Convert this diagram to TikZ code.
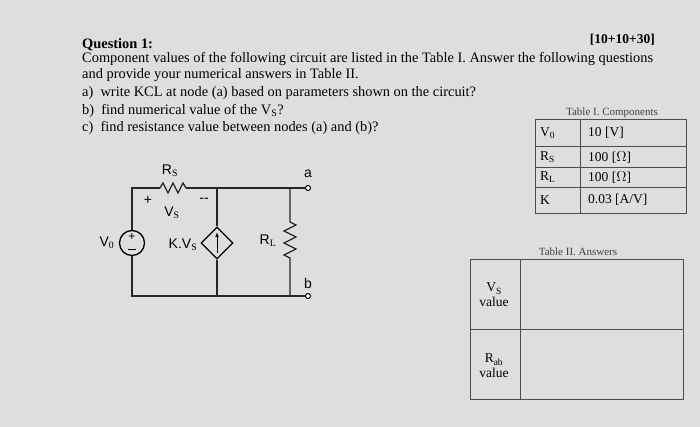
\documentclass[tikz,border=0pt]{standalone}
\usepackage{fontspec}
\usetikzlibrary{shapes.geometric,arrows.meta}
\setmainfont{Liberation Serif}
\newfontfamily\cirfont{Liberation Sans}
\begin{document}
\begin{tikzpicture}[x=1pt,y=-1pt,
  txt/.style={anchor=west,inner sep=0pt,font=\fontsize{14.4}{16}\selectfont},
  cl/.style={inner sep=0pt,font=\cirfont\fontsize{14}{16}\selectfont},
  tcell/.style={inner sep=0pt,anchor=west,font=\fontsize{13.5}{15}\selectfont},
  wire/.style={line width=1.3pt,draw=black!85},
  term/.style={circle,draw,line width=1pt,fill=white,inner sep=0pt,minimum size=5pt},
  tline/.style={draw=black!70,line width=0.9pt},
  small/.style={inner sep=0pt,font=\fontsize{11}{12}\selectfont,text=black!75}]
\useasboundingbox (0,0) rectangle (700,427);
\fill[black!13] (0,0) rectangle (700,427);
% text
\node[anchor=east,inner sep=0pt,font=\bfseries\fontsize{13.5}{15}\selectfont] (marks) at (655,40) {[10+10+30]};
\node[txt,font=\bfseries\fontsize{14.4}{16}\selectfont] (q) at (82,45) {Question 1:};
\node[txt] (l1) at (82,59) {Component values of the following circuit are listed in the Table I. Answer the following questions};
\node[txt] (l2) at (82,75) {and provide your numerical answers in Table II.};
\node[txt] (la) at (82,93) {a)\ \ write KCL at node (a) based on parameters shown on the circuit?};
\node[txt] (lb) at (82,111) {b)\ \ find numerical value of the V$_\mathrm{S}$?};
\node[txt] (lc) at (82,128) {c)\ \ find resistance value between nodes (a) and (b)?};
% circuit
\coordinate (tl) at (132,188);
\coordinate (bl) at (132,296);
\coordinate (r1) at (160,188);
\coordinate (r2) at (186,188);
\coordinate (mt) at (217,188);
\coordinate (mb) at (217,296);
\coordinate (rt) at (290,188);
\coordinate (rb) at (290,296);
\node[term] (a) at (308,188) {};
\node[term] (b) at (308,296) {};
\node[circle,draw,line width=1.3pt,fill=black!13,minimum size=25pt,inner sep=0pt] (vo) at (132,243) {};
\node[cl,font=\cirfont\fontsize{12}{12}\selectfont] at (132,237) {+};
\draw[line width=1pt] (128,250) -- (136,250);
\node[diamond,draw,line width=1.3pt,minimum size=32pt,inner sep=0pt,fill=black!13,shape aspect=1] (dep) at (217,243) {};
\draw[line width=1pt,-{Latex[length=5pt]}] (217,253) -- (217,232);
\draw[wire] (r1) -- (tl) -- (vo.north);
\draw[wire] (vo.south) -- (bl) -- (b.west);
\draw[wire] (r2) -- (a.west);
\draw[wire] (mt) -- (dep.north) (dep.south) -- (mb);
\draw[wire] (rt) -- (290,222) -- (296,225) -- (284,231) -- (296,237) -- (284,243) -- (296,249) -- (284,255) -- (290,258) -- (rb);
\draw[wire] (r1) -- (163,183) -- (168,193) -- (173,183) -- (178,193) -- (183,183) -- (r2);
\node[cl] (rsl) at (170,171) {R$_\mathrm{S}$};
\node[cl] (pl) at (148,200) {+};
\node[cl] (mi) at (204,200) {--};
\node[cl] (vsl) at (172,213) {V$_\mathrm{S}$};
\node[cl] (vol) at (107,243) {V$_\mathrm{0}$};
\node[cl] (kvl) at (183,245) {K.V$_\mathrm{S}$};
\node[cl] (rll) at (268,241) {R$_\mathrm{L}$};
\node[cl] (al) at (308,174) {a};
\node[cl] (bll) at (308,283) {b};
% table I
\node[small] (t1) at (612,113) {Table I. Components};
\draw[tline] (535,119) rectangle (686,213);
\draw[tline] (580,119) -- (580,213);
\foreach \y in {146,167,187} \draw[tline] (535,\y) -- (686,\y);
\node[tcell] at (540,133) {V$_\mathrm{0}$};
\node[tcell] at (540,157) {R$_\mathrm{S}$};
\node[tcell] at (540,177) {R$_\mathrm{L}$};
\node[tcell] at (540,200) {K};
\node[tcell] at (588,133) {10 [V]};
\node[tcell] at (588,157) {100 [$\Omega$]};
\node[tcell] at (588,177) {100 [$\Omega$]};
\node[tcell] at (588,200) {0.03 [A/V]};
% table II
\node[small] (t2) at (578,252) {Table II. Answers};
\draw[tline] (470,259) rectangle (683,399);
\draw[tline] (520,259) -- (520,399);
\draw[tline] (470,329) -- (683,329);
\node[align=center,inner sep=0pt,font=\fontsize{13.5}{15}\selectfont] (vsv) at (494,295) {V$_\mathrm{S}$\\value};
\node[align=center,inner sep=0pt,font=\fontsize{13.5}{15}\selectfont] (rab) at (494,366) {R$_\mathrm{ab}$\\value};
\end{tikzpicture}
\end{document}
